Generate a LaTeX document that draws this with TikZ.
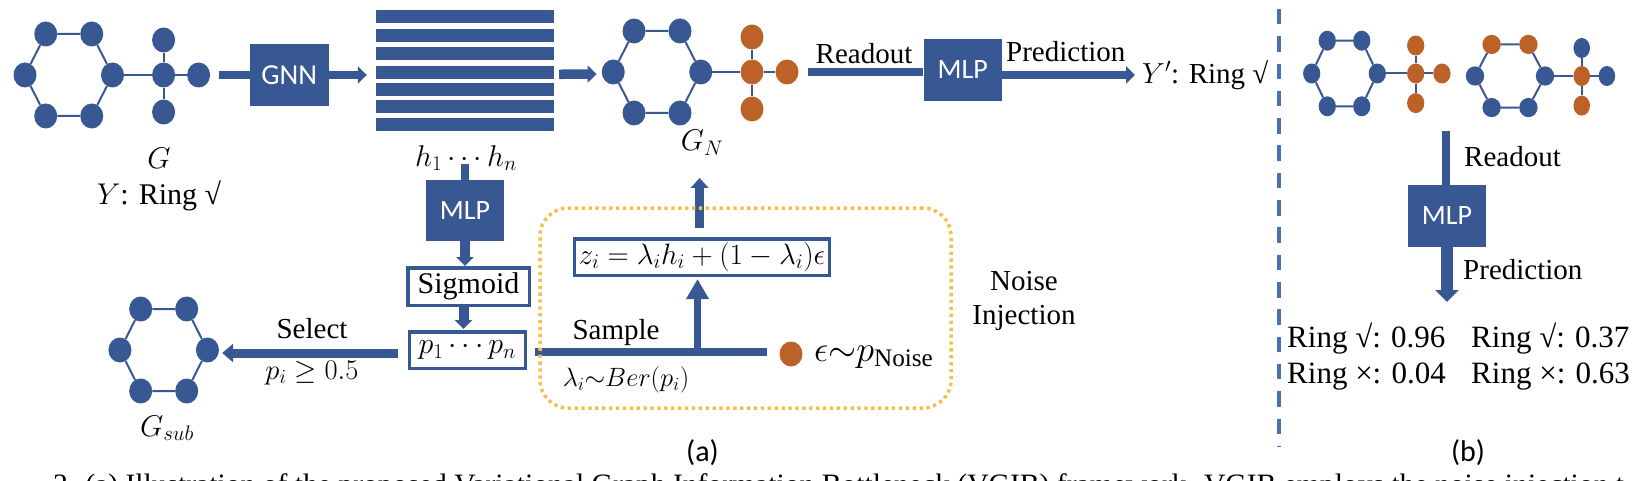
\RequirePackage{fix-cm}
\documentclass[tikz,border=0pt]{standalone}
\usepackage{fontspec}
\setmainfont{Liberation Serif}
\newfontfamily\boxfont{Carlito}
\usetikzlibrary{arrows.meta,shapes.geometric}
\definecolor{blueink}{RGB}{56,88,147}
\definecolor{orangeink}{RGB}{188,97,40}
\definecolor{yellowink}{RGB}{245,192,74}
\definecolor{dashink}{RGB}{74,112,176}

\newcommand{\ringgraph}[6]{%
  \begin{scope}[shift={(#2,#3)},xscale=#4,yscale=#5,transform shape]
    \node[dotnode,fill=#6] (#1a) at (-23,-41) {};
    \node[dotnode,fill=#6] (#1b) at (23,-41) {};
    \node[dotnode,fill=blueink] (#1c) at (-43.75,0) {};
    \node[dotnode,fill=blueink] (#1d) at (43.75,0) {};
    \node[dotnode,fill=blueink] (#1e) at (-23,41) {};
    \node[dotnode,fill=blueink] (#1f) at (23,41) {};
  \end{scope}
  \draw[edgeline] (#1a) -- (#1b) -- (#1d) -- (#1f) -- (#1e) -- (#1c) -- (#1a);
}
\newcommand{\stargraph}[9]{%
  \begin{scope}[shift={(#2,#3)},xscale=#4,yscale=#5,transform shape]
    \node[dotnode,fill=#6] (#1s) at (0,0) {};
    \node[dotnode,fill=#7] (#1u) at (0,-35) {};
    \node[dotnode,fill=#8] (#1r) at (35,0) {};
    \node[dotnode,fill=#9] (#1v) at (0,37) {};
  \end{scope}
  \draw[edgeline] (#1d) -- (#1s);
  \draw[edgeline] (#1u) -- (#1s) -- (#1v);
  \draw[edgeline] (#1s) -- (#1r);
}

\begin{document}
\begin{tikzpicture}[%
      x=1pt,y=-1pt,
      dotnode/.style={ellipse,inner sep=0pt,minimum width=23pt,minimum height=25pt},
      edgeline/.style={color=blueink,line width=2pt},
      barnode/.style={fill=blueink,inner sep=0pt,minimum width=178pt,minimum height=13pt},
      netbox/.style={fill=blueink,text=white,inner sep=0pt,font=\boxfont\fontsize{28}{30}\selectfont},
      framebox/.style={draw=blueink,line width=3.5pt,fill=white,inner sep=0pt},
      wordnode/.style={inner sep=0pt,font=\fontsize{29}{32}\selectfont},
      mathnode/.style={inner sep=0pt,font=\fontsize{30}{32}\selectfont},
      capnode/.style={inner sep=0pt,font=\boxfont\fontsize{30}{32}\selectfont},
      flatline/.style={color=blueink,line width=8pt},
      flowarrow/.style={color=blueink,line width=8pt,-{Triangle[length=9pt,width=17pt]}},
      ]
      \useasboundingbox (0,0) rectangle (1645,481);

      % graphs
      \ringgraph{g}{68.75}{75}{1}{1}{blueink}
      \stargraph{g}{163.6}{75}{1}{1}{blueink}{blueink}{blueink}{blueink}
      \ringgraph{n}{657}{72}{1}{1}{blueink}
      \stargraph{n}{752}{72}{1}{1}{orangeink}{orangeink}{orangeink}{orangeink}
      \ringgraph{s}{163.7}{350}{1}{1}{blueink}
      \ringgraph{p}{1344.5}{73.5}{0.75}{0.8}{blueink}
      \stargraph{p}{1415.7}{73.5}{0.75}{0.8}{orangeink}{orangeink}{orangeink}{orangeink}
      \ringgraph{q}{1510}{76}{0.8}{0.77}{orangeink}
      \stargraph{q}{1581.7}{76}{0.72}{0.8}{orangeink}{blueink}{blueink}{orangeink}

      % embedding bars
      \foreach \i/\y in {1/17,2/36,3/54,4/72.3,5/89.7,6/106.7,7/124.3} {
        \node[barnode] (bar\i) at (465,\y) {};
      }

      % boxes
      \node[netbox,minimum width=78.6pt,minimum height=62pt,font=\boxfont\fontsize{29}{30}\selectfont] (gnn) at (289.3,75) {GNN};
      \node[netbox,minimum width=78pt,minimum height=61pt] (mlpa) at (465,210.5) {MLP};
      \node[netbox,minimum width=78.4pt,minimum height=61.7pt] (mlpb) at (962.8,69.8) {\raisebox{-3pt}{MLP}};
      \node[netbox,minimum width=78pt,minimum height=62pt] (mlpc) at (1447,216) {MLP};
      \node[framebox,minimum width=121.5pt,minimum height=37.5pt,font=\fontsize{30}{32}\selectfont] (sigmoid) at (468.5,286.5) {Sigmoid};
      \node[framebox,minimum width=116pt,minimum height=36.5pt,font=\fontsize{30}{32}\selectfont] (pbox) at (467.25,350) {$p_1\cdots p_n$};
      \node[framebox,minimum width=255pt,minimum height=36.5pt,font=\fontsize{29.4}{32}\selectfont] (zbox) at (702,257) {$z_i=\lambda_i h_i+(1-\lambda_i)\epsilon$};

      % labels
      \node[mathnode] (glabel) at (159,158) {$G$};
      \node[wordnode,font=\fontsize{30}{32}\selectfont] (ylabel) at (159,196) {$Y$: Ring √};
      \node[mathnode] (hlabel) at (466,158) {$h_1\cdots h_n$};
      \node[mathnode] (nlabel) at (702,143) {$G_N$};
      \node[mathnode] (slabel) at (167,428) {$G_{sub}$};
      \node[wordnode] (readone) at (864,54) {Readout};
      \node[wordnode,anchor=west] (predone) at (1006,52) {Prediction};
      \node[wordnode,anchor=west] (yprime) at (1142,75) {$Y'$: Ring √};
      \node[wordnode] (select) at (312,329) {Select};
      \node[mathnode,font=\fontsize{28.5}{30}\selectfont] (pthresh) at (312,373) {$p_i\geq 0.5$};
      \node[wordnode] (sample) at (616,333) {Sample};
      \node[mathnode,font=\fontsize{26.5}{30}\selectfont] (lambda) at (626,380) {$\lambda_i{\sim}Ber(p_i)$};
      \node[dotnode,fill=orangeink] (noisedot) at (791,354) {};
      \node[mathnode,anchor=west,font=\fontsize{36}{38}\selectfont] (noiselaw) at (814,357) {$\epsilon{\sim}p_{\mathrm{Noise}}$};
      \node[wordnode] (noisea) at (1024,281) {Noise};
      \node[wordnode] (noiseb) at (1024,318) {Injection};
      \node[wordnode,anchor=west] (readtwo) at (1464,157) {Readout};
      \node[wordnode,anchor=west] (predtwo) at (1463,270) {Prediction};
      \node[wordnode,anchor=west,font=\fontsize{31}{34}\selectfont] (ringa) at (1287,339) {Ring √: 0.96};
      \node[wordnode,anchor=west,font=\fontsize{31}{34}\selectfont] (ringb) at (1471,339) {Ring √: 0.37};
      \node[wordnode,anchor=west,font=\fontsize{31}{34}\selectfont] (ringc) at (1287,377) {Ring ×: 0.04};
      \node[wordnode,anchor=west,font=\fontsize{31}{34}\selectfont] (ringd) at (1471,377) {Ring ×: 0.63};
      \node[capnode] (capa) at (702.5,453) {(a)};
      \node[capnode] (capb) at (1468,453) {(b)};
      \node[inner sep=0pt,anchor=base west,font=\fontsize{29.6}{32}\selectfont] (caption) at (53,494.5) {2. (a) Illustration of the proposed Variational Graph Information Bottleneck (VGIB) framework. VGIB employs the noise injection t};

      % free ends
      \coordinate (htop) at (465,164);
      \coordinate (busmid) at (697.5,352);
      \coordinate (ntip) at (699.6,178);
      \coordinate (readtop) at (1445.7,131);
      \coordinate (predtip) at (1447,302);
      \coordinate (dashtop) at (1279,9);
      \coordinate (dashbot) at (1279,447);

      % connectors
      \draw[flatline,shorten <=8.5pt] (gr) -- (gnn);
      \draw[flowarrow,shorten >=9pt] (gnn) -- (gnn -| bar4.west);
      \draw[flowarrow,line width=9.5pt,shorten <=5pt,shorten >=5pt] ([yshift=-2pt]bar4.east) -- ([yshift=-2pt]nc.west);
      \draw[flatline] (htop) -- (htop |- mlpa.north);
      \draw[flowarrow,line width=10pt] (mlpa.south) -- (mlpa.south |- sigmoid.north);
      \draw[flowarrow,line width=10pt,shorten >=1pt] ([xshift=-5pt]sigmoid.south) -- ([xshift=-5pt]sigmoid.south |- pbox.north);
      \draw[flowarrow,line width=9pt,-{Triangle[length=11pt,width=18pt]},shorten <=9.5pt,shorten >=3pt] ([yshift=-3pt]pbox.west) -- ([yshift=-3pt]sd.east);
      \draw[flatline,line width=7.5pt,shorten <=8pt,shorten >=12pt] ([yshift=-2pt]pbox.east) -- ([yshift=2pt]noisedot.west);
      \draw[flowarrow,line width=7pt,-{Triangle[length=20pt,width=21.4pt]},shorten >=2pt] (busmid) -- (busmid |- zbox.south);
      \draw[flowarrow,line width=9pt,-{Triangle[length=10pt,width=17.5pt]},shorten <=9pt] (ntip |- zbox.north) -- (ntip);
      \draw[flatline,shorten <=9pt] (nr) -- (nr -| mlpb.west);
      \draw[flowarrow,shorten >=7pt] (mlpb.east |- yprime) -- (yprime.west);
      \draw[flatline] (readtop) -- (readtop |- mlpc.north);
      \draw[flowarrow,line width=12pt,-{Triangle[length=12pt,width=23pt]}] (mlpc.south) -- (predtip);
      \draw[color=dashink,line width=4pt,dash pattern=on 15.5pt off 11.8pt] (dashtop) -- (dashbot);

      % noise frame
      \node[draw=yellowink,line width=3.5pt,dash pattern=on 3.3pt off 3.6pt,rounded corners=28pt,inner sep=0pt,minimum width=411pt,minimum height=200pt] (noiseframe) at (745.5,308) {};
      \end{tikzpicture}
\end{document}
